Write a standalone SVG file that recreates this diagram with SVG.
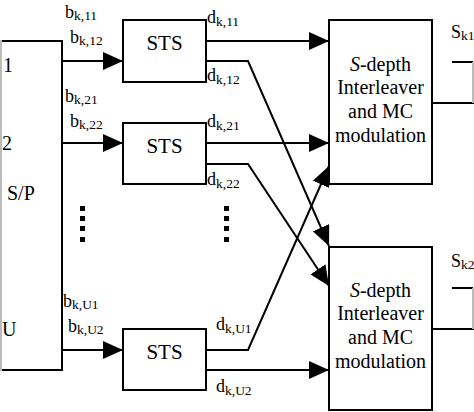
<svg xmlns="http://www.w3.org/2000/svg" width="474" height="412" viewBox="0 0 474 412" font-family="'Liberation Serif', 'Times New Roman', Times, serif">
<style>
.box{fill:#fff;stroke:#000;stroke-width:2}
.ln{fill:none;stroke:#000;stroke-width:2}
.gl{fill:none;stroke:#bbb;stroke-width:2}
text{font-family:'Liberation Serif', 'Times New Roman', Times, serif;fill:#000}
.lab{font-size:20px}
.sts{font-size:21px;text-anchor:middle}
.il{font-size:20px;text-anchor:middle}
.v{font-size:18px}
.s{font-size:13.5px}
</style>
<defs>
<marker id="ah" markerUnits="userSpaceOnUse" markerWidth="20" markerHeight="18" refX="20" refY="9" orient="auto" viewBox="0 0 20 18">
<path d="M0,0 L20,9 L0,18 Z" fill="#000"/>
</marker>
</defs>
<rect width="474" height="412" fill="#fff"/>

<g id="sp">
<path class="ln" d="M1,41 H62 V370 H1"/>
<line class="gl" x1="1" y1="40" x2="1" y2="371"/>
<text class="lab" x="3" y="72">1</text>
<text class="lab" x="2" y="150">2</text>
<text class="lab" x="7" y="200">S/P</text>
<text class="lab" x="2" y="336">U</text>
</g>

<g id="sts1">
<rect class="box" x="123" y="20" width="83" height="62"/>
<text class="sts" x="164.5" y="50">STS</text>
</g>
<g id="sts2">
<rect class="box" x="123" y="123" width="83" height="61"/>
<text class="sts" x="164.5" y="153">STS</text>
</g>
<g id="sts3">
<rect class="box" x="123" y="329" width="83" height="61"/>
<text class="sts" x="164.5" y="359">STS</text>
</g>

<g id="il1">
<rect class="box" x="329" y="20" width="103" height="164"/>
<text class="il" x="380.5" y="71"><tspan font-style="italic">S</tspan>-depth</text>
<text class="il" x="380.5" y="94">Interleaver</text>
<text class="il" x="380.5" y="118">and MC</text>
<text class="il" x="380.5" y="142">modulation</text>
</g>
<g id="il2">
<rect class="box" x="329" y="247" width="103" height="163"/>
<text class="il" x="380.5" y="297"><tspan font-style="italic">S</tspan>-depth</text>
<text class="il" x="380.5" y="320">Interleaver</text>
<text class="il" x="380.5" y="344">and MC</text>
<text class="il" x="380.5" y="368">modulation</text>
</g>

<g id="dots">
<rect x="80" y="206" width="5" height="5"/>
<rect x="80" y="216" width="5" height="5"/>
<rect x="80" y="226" width="5" height="5"/>
<rect x="80" y="237" width="5" height="5"/>
<rect x="224" y="206" width="5" height="5"/>
<rect x="224" y="216" width="5" height="5"/>
<rect x="224" y="226" width="5" height="5"/>
<rect x="224" y="237" width="5" height="5"/>
</g>

<g id="connectors">
<path class="ln" d="M62,61 H123" marker-end="url(#ah)"/>
<path class="ln" d="M62,143 H123" marker-end="url(#ah)"/>
<path class="ln" d="M62,350 H123" marker-end="url(#ah)"/>
<path class="ln" d="M206,41 H329" marker-end="url(#ah)"/>
<path class="ln" d="M206,61 H248 L329,246" marker-end="url(#ah)"/>
<path class="ln" d="M206,143 H329" marker-end="url(#ah)"/>
<path class="ln" d="M206,164 H248 L329,286" marker-end="url(#ah)"/>
<path class="ln" d="M206,350 H248 L329,166" marker-end="url(#ah)"/>
<path class="ln" d="M206,370 H329" marker-end="url(#ah)"/>
<path class="ln" d="M432,103 H474"/>
<path class="ln" d="M452,62 H473"/>
<path class="gl" d="M473,62 V103"/>
<path class="ln" d="M432,329 H474"/>
<path class="ln" d="M452,288 H473"/>
<path class="gl" d="M473,288 V329"/>
</g>

<g id="labels">
<text class="v" x="65" y="18">b<tspan class="s" dy="2">k,11</tspan></text>
<text class="v" x="70" y="43">b<tspan class="s" dy="2">k,12</tspan></text>
<text class="v" x="65" y="102">b<tspan class="s" dy="2">k,21</tspan></text>
<text class="v" x="70" y="127">b<tspan class="s" dy="2">k,22</tspan></text>
<text class="v" x="63" y="307">b<tspan class="s" dy="2">k,U1</tspan></text>
<text class="v" x="68" y="332">b<tspan class="s" dy="2">k,U2</tspan></text>
<text class="v" x="207" y="23">d<tspan class="s" dy="3">k,11</tspan></text>
<text class="v" x="207" y="81">d<tspan class="s" dy="3">k,12</tspan></text>
<text class="v" x="207" y="127">d<tspan class="s" dy="3">k,21</tspan></text>
<text class="v" x="207" y="185">d<tspan class="s" dy="3">k,22</tspan></text>
<text class="v" x="216" y="330">d<tspan class="s" dy="3">k,U1</tspan></text>
<text class="v" x="216" y="392">d<tspan class="s" dy="3">k,U2</tspan></text>
<text class="v" x="451" y="38">S<tspan class="s" dy="2">k1</tspan></text>
<text class="v" x="451" y="267">S<tspan class="s" dy="2">k2</tspan></text>
</g>
</svg>
